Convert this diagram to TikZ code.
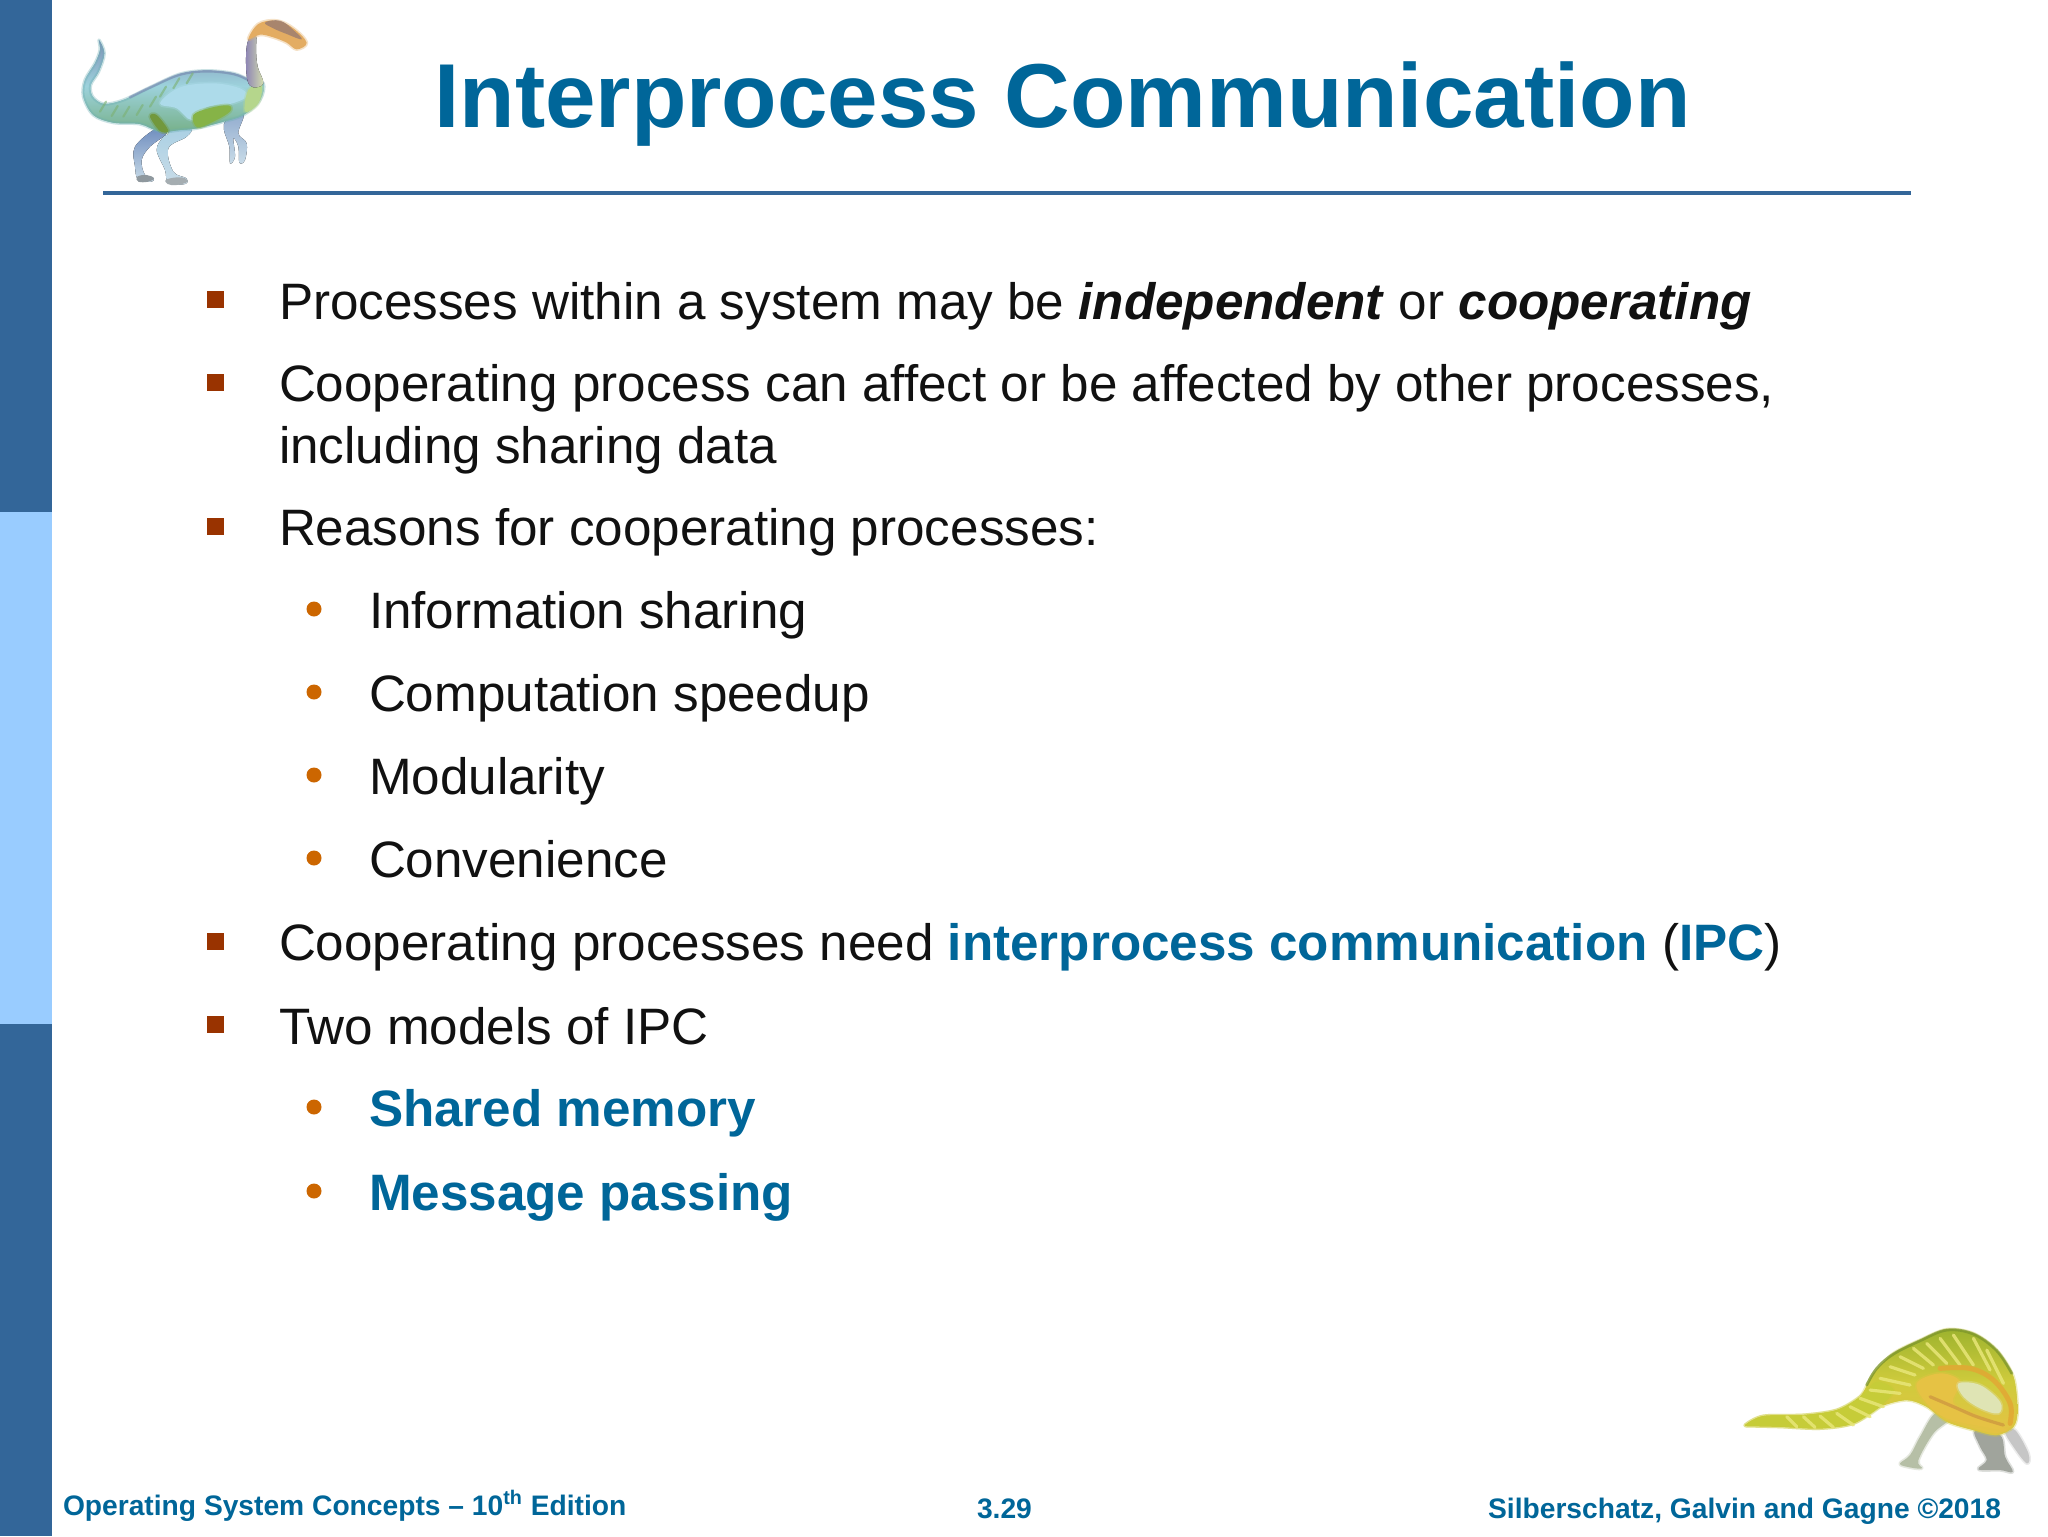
\documentclass[tikz,border=0pt]{standalone}
\usepackage{fontspec}
\setmainfont{Liberation Sans}
\definecolor{sidedark}{HTML}{336699}
\definecolor{sidelight}{HTML}{99CCFF}
\definecolor{teal}{HTML}{006699}
\definecolor{rulec}{HTML}{336699}
\definecolor{sqc}{HTML}{993300}
\definecolor{dotc}{HTML}{CC6600}
\definecolor{bodyc}{HTML}{111111}
% first dinosaur
\definecolor{aback}{HTML}{7E90B6}
\definecolor{abody}{HTML}{9DD2DC}
\definecolor{alight}{HTML}{ADDBEA}
\definecolor{atail}{HTML}{6CAEB4}
\definecolor{agreen}{HTML}{86B347}
\definecolor{agreenl}{HTML}{B5D68C}
\definecolor{aneckl}{HTML}{8F86B4}
\definecolor{aneckr}{HTML}{D5E0AE}
\definecolor{ahead}{HTML}{E3AC62}
\definecolor{aheadd}{HTML}{9A7C70}
\definecolor{aleg}{HTML}{9CCBE2}
\definecolor{alegd}{HTML}{6E8CBE}
\definecolor{alegl}{HTML}{C9DCE8}
\definecolor{afoot}{HTML}{8F989E}
% second dinosaur
\definecolor{bgreen}{HTML}{9DB32E}
\definecolor{bedge}{HTML}{74902A}
\definecolor{bmid}{HTML}{CFCB3C}
\definecolor{byellow}{HTML}{E6C244}
\definecolor{brib}{HTML}{E8E678}
\definecolor{borange}{HTML}{E2A834}
\definecolor{bbrown}{HTML}{CC9440}
\definecolor{bshell}{HTML}{DFE4B4}
\definecolor{bleg}{HTML}{B6BFA6}
\definecolor{blegd}{HTML}{A0A49C}
\definecolor{blegl}{HTML}{C6C6C6}
\definecolor{btail}{HTML}{C6CC38}
\newcommand{\kw}[1]{\textcolor{teal}{\textbf{#1}}}
\tikzset{
  txt/.style={anchor=base west,inner sep=0pt,outer sep=0pt,text=bodyc,font=\fontsize{25.6}{30}\selectfont},
  foot/.style={anchor=base west,inner sep=0pt,outer sep=0pt,text=teal,font=\fontsize{14.1}{17}\selectfont\bfseries},
  sqbul/.style={rectangle,fill=sqc,minimum width=8.5pt,minimum height=8.5pt,inner sep=0pt,outer sep=0pt},
  dotbul/.style={circle,fill=dotc,minimum size=7.5pt,inner sep=0pt,outer sep=0pt},
  dinopix/.style={x=0.16667pt,y=-0.16667pt},
  px/.style={line join=round,line cap=round},
  soft/.style={draw=#1,line width=1.6pt,draw opacity=.35,fill=#1}
}
\begin{document}
\begin{tikzpicture}[x=0.5pt,y=-0.5pt]
\useasboundingbox (0,0) rectangle (2048,1536);
\fill[white] (0,0) rectangle (2048,1536);
% side bar
\fill[sidedark] (0,0) rectangle (52,512);
\fill[sidelight] (0,512) rectangle (52,1024);
\fill[sidedark] (0,1024) rectangle (52,1536);
% title and rule
\node[anchor=base west,inner sep=0pt,text=teal,font=\fontsize{45.4}{50}\selectfont\bfseries] (title) at (434,127) {Interprocess Communication};
\coordinate (ruleL) at (103,193);
\coordinate (ruleR) at (1911,193);
\draw[rulec,line width=2pt] (ruleL) -- (ruleR);
% bullets and text
\node[sqbul] (b1) at (215,299) {};
\node[txt] (t1) at (279,319) {Processes within a system may be \textbf{\textit{independent}} or \textbf{\textit{cooperating}}};
\node[sqbul] (b2) at (215,382) {};
\node[txt] (t2) at (279,401) {Cooperating process can affect or be affected by other processes,};
\node[txt] (t2b) at (279,463) {including sharing data};
\node[sqbul] (b3) at (215,526) {};
\node[txt] (t3) at (279,545) {Reasons for cooperating processes:};
\node[dotbul] (d1) at (314,609) {};
\node[txt] (s1) at (369,628) {Information sharing};
\node[dotbul] (d2) at (314,692) {};
\node[txt] (s2) at (369,711) {Computation speedup};
\node[dotbul] (d3) at (314,775) {};
\node[txt] (s3) at (369,794) {Modularity};
\node[dotbul] (d4) at (314,858) {};
\node[txt] (s4) at (369,877) {Convenience};
\node[sqbul] (b4) at (215,941) {};
\node[txt] (t4) at (279,960) {Cooperating processes need \kw{interprocess communication} (\kw{IPC})};
\node[sqbul] (b5) at (215,1024) {};
\node[txt] (t5) at (279,1044) {Two models of IPC};
\node[dotbul] (d5) at (314,1107) {};
\node[txt] (s5) at (369,1126) {\kw{Shared memory}};
\node[dotbul] (d6) at (314,1191) {};
\node[txt] (s6) at (369,1210) {\kw{Message passing}};
% footer
\node[foot] (f1) at (63,1515) {Operating System Concepts – 10\textsuperscript{th} Edition};
\node[foot] (f2) at (977,1518) {3.29};
\node[foot,anchor=base east] (f3) at (2001,1518) {Silberschatz, Galvin and Gagne ©2018};
% top-left dinosaur
\begin{scope}[dinopix,px]
 % far hind leg
 \fill[top color=alegd,bottom color=alegl] plot[smooth cycle,tension=.6] coordinates {(470,385)(500,400)(450,440)(425,480)(435,525)(460,535)(455,545)(415,540)(405,500)(405,440)};
 % fore legs
 \fill[top color=alegd!60!alegl,bottom color=alegl] plot[smooth cycle,tension=.6] coordinates {(680,360)(730,345)(715,400)(740,430)(735,480)(718,488)(715,440)(700,415)(705,470)(690,490)(688,440)(672,390)};
 % near hind leg
 \fill[top color=aleg,bottom color=alegl] plot[smooth cycle,tension=.6] coordinates {(480,310)(540,320)(575,380)(560,410)(505,445)(520,515)(560,535)(555,552)(505,550)(495,510)(470,450)(490,410)(505,395)};
 % tail and body
 \shade[soft=atail,top color=aback,bottom color=agreen!40!atail,middle color=abody] plot[smooth cycle,tension=.55] coordinates {(297,120)(313,160)(296,215)(272,255)(278,290)(312,312)(370,300)(450,262)(540,222)(620,212)(700,220)(745,238)(790,250)(780,300)(730,345)(670,365)(590,385)(540,390)(480,395)(420,372)(340,368)(280,345)(250,290)(255,240)(285,190)(300,150)};
 % light flank
 \fill[soft=alight] plot[smooth cycle,tension=.6] coordinates {(480,310)(540,262)(640,250)(720,265)(740,290)(690,312)(620,322)(575,360)(530,325)};
 % belly
 \fill[soft=agreen] plot[smooth cycle,tension=.6] coordinates {(580,345)(630,324)(685,316)(690,335)(640,365)(592,382)};
 \fill[soft=agreen!85!black] plot[smooth cycle,tension=.6] coordinates {(450,350)(470,345)(505,392)(480,393)};
 \fill[soft=agreenl] plot[smooth cycle,tension=.6] coordinates {(745,270)(785,255)(775,310)(735,335)};
 % back stripe
 \draw[aback,line width=1.2pt,opacity=.7] plot[smooth,tension=.6] coordinates {(390,292)(460,258)(540,224)(620,214)(700,222)(745,240)};
 % tail and back marks
 \foreach \a/\b in {300/335,335/348,370/350,410/345,450/320,480/290,520/265,560/250}{
  \draw[agreen!60!atail,line width=1.1pt,opacity=.6] (\a,\b) -- ++(18,-30);}
 % neck
 \fill[left color=aneckl,right color=aneckr] plot[smooth cycle,tension=.6] coordinates {(742,240)(738,170)(745,120)(768,108)(768,150)(773,200)(790,250)(760,262)};
 % head
 \fill[soft=ahead] plot[smooth cycle,tension=.6] coordinates {(745,118)(775,72)(830,62)(880,85)(920,128)(890,148)(860,128)(820,112)(780,104)};
 \fill[aheadd,opacity=.8] plot[smooth cycle,tension=.7] coordinates {(795,68)(840,62)(880,90)(905,118)(860,102)(820,85)};
 % feet
 \fill[afoot] plot[smooth cycle,tension=.7] coordinates {(412,530)(440,525)(462,535)(445,545)(415,545)};
 \fill[afoot!80!white] plot[smooth cycle,tension=.7] coordinates {(500,538)(545,532)(562,545)(530,555)(503,552)};
\end{scope}
% bottom-right dinosaur
\begin{scope}[dinopix,px,shift={(5160,3930)}]
 % legs
 \fill[soft=bleg] plot[smooth cycle,tension=.6] coordinates {(645,310)(690,325)(640,370)(595,450)(605,475)(560,470)(540,460)(570,435)(600,380)};
 \fill[soft=blegd] plot[smooth cycle,tension=.6] coordinates {(765,360)(840,375)(855,440)(878,485)(840,480)(775,478)(800,450)(780,410)};
 \fill[soft=blegl] plot[smooth cycle,tension=.6] coordinates {(855,365)(885,360)(925,430)(920,460)(880,410)};
 % body
 \shade[soft=bmid,top color=bgreen,bottom color=byellow,middle color=bmid] plot[smooth cycle,tension=.5] coordinates {(75,345)(130,318)(250,315)(350,300)(420,260)(460,190)(520,130)(600,90)(680,58)(760,70)(830,120)(880,200)(892,300)(880,350)(830,375)(760,360)(680,335)(620,290)(560,270)(480,290)(400,340)(300,355)(180,350)(100,348)};
 % tail
 \fill[soft=btail] plot[smooth cycle,tension=.5] coordinates {(75,345)(130,318)(250,315)(350,300)(420,260)(470,215)(520,240)(480,290)(400,340)(300,355)(180,350)(100,348)};
 % ribs
 \foreach \a/\b/\c/\d in {700/75/760/165,660/85/720/165,620/100/680/160,580/115/640/165,540/140/610/175,510/170/585/195,480/205/570/225,450/240/540/250,420/265/490/290,390/290/450/320,350/310/400/345,300/318/340/352,250/320/285/352,200/320/230/350,760/85/810/180,800/120/850/220}{
  \draw[brib,line width=1.6pt,opacity=.85] (\a,\b) -- (\c,\d);}
 \draw[bedge,line width=1.4pt,opacity=.7] plot[smooth,tension=.6] coordinates {(440,225)(470,175)(520,132)(600,92)(680,60)(760,72)(830,122)(875,190)};
 % orange band
 \draw[borange,line width=2.5pt,opacity=.85] plot[smooth,tension=.6] coordinates {(660,175)(750,175)(820,210)(870,280)(870,340)};
 \fill[soft=byellow] plot[smooth cycle,tension=.6] coordinates {(590,220)(660,190)(720,215)(700,280)(780,320)(860,360)(790,350)(680,325)(620,280)};
 \draw[bbrown,line width=1.6pt,opacity=.7] plot[smooth,tension=.6] coordinates {(630,260)(700,290)(770,320)(850,345)};
 % pale shell
 \fill[soft=bshell] plot[smooth cycle,tension=.6] coordinates {(715,220)(780,225)(840,275)(835,310)(780,295)(730,260)};
\end{scope}
\end{tikzpicture}
\end{document}
